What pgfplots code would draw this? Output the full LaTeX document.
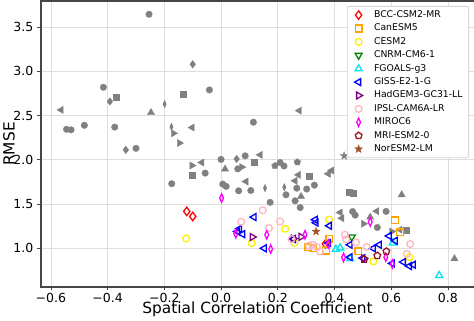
\documentclass[border=0pt]{standalone}
\usepackage{fontspec}
\setmainfont{DejaVu Sans}
\usepackage{pgfplots}
\pgfplotsset{compat=1.18}
\usetikzlibrary{plotmarks}

\definecolor{axisc}{RGB}{70,70,70}
\definecolor{gridc}{RGB}{222,222,222}
\definecolor{legc}{RGB}{215,215,215}
\definecolor{gr}{RGB}{128,128,128}
\definecolor{cbcc}{RGB}{255,0,0}
\definecolor{ccan}{RGB}{255,165,0}
\definecolor{ccesm}{RGB}{250,240,0}
\definecolor{ccnrm}{RGB}{0,128,0}
\definecolor{cfgo}{RGB}{0,230,240}
\definecolor{cgiss}{RGB}{0,0,255}
\definecolor{chad}{RGB}{128,0,128}
\definecolor{cipsl}{RGB}{255,182,193}
\definecolor{cmiroc}{RGB}{255,0,255}
\definecolor{cmri}{RGB}{150,20,30}
\definecolor{cnor}{RGB}{165,82,45}

\pgfdeclareplotmark{fstar}{%
  \pgfpathmoveto{\pgfpointpolar{90}{\pgfplotmarksize}}%
  \pgfpathlineto{\pgfpointpolar{126}{0.42\pgfplotmarksize}}%
  \pgfpathlineto{\pgfpointpolar{162}{\pgfplotmarksize}}%
  \pgfpathlineto{\pgfpointpolar{198}{0.42\pgfplotmarksize}}%
  \pgfpathlineto{\pgfpointpolar{234}{\pgfplotmarksize}}%
  \pgfpathlineto{\pgfpointpolar{270}{0.42\pgfplotmarksize}}%
  \pgfpathlineto{\pgfpointpolar{306}{\pgfplotmarksize}}%
  \pgfpathlineto{\pgfpointpolar{342}{0.42\pgfplotmarksize}}%
  \pgfpathlineto{\pgfpointpolar{18}{\pgfplotmarksize}}%
  \pgfpathlineto{\pgfpointpolar{54}{0.42\pgfplotmarksize}}%
  \pgfpathclose
  \pgfusepathqfillstroke
}

\begin{document}
\begin{tikzpicture}
\begin{axis}[
  name=ax,
  scale only axis, width=433pt, height=286pt,
  xmin=-0.635, xmax=0.892, ymin=0.563, ymax=3.795,
  xtick={-0.6,-0.4,-0.2,0,0.2,0.4,0.6,0.8},
  xticklabels={−0.6,−0.4,−0.2,0.0,0.2,0.4,0.6,0.8},
  ytick={1,1.5,2,2.5,3,3.5},
  yticklabels={1.0,1.5,2.0,2.5,3.0,3.5},
  tick label style={font=\fontsize{12.5}{14}\selectfont},
  xticklabel style={inner sep=0pt, text height=9.2pt, text depth=0pt, yshift=-2.3pt},
  yticklabel style={inner sep=1pt, xshift=-3pt},
  tick align=outside, major tick length=3.5pt,
  tick style={color=axisc, line width=0.8pt},
  xtick pos=bottom, ytick pos=left,
  grid=major, grid style={color=gridc, line width=0.8pt},
  axis line style={draw=none},
  xlabel={Spatial Correlation Coefficient}, ylabel={RMSE},
  label style={font=\fontsize{15.4}{17}\selectfont},
  xlabel style={inner sep=0pt, text height=11pt, yshift=-0.6pt},
  ylabel style={inner sep=0pt, yshift=-2.5pt},
  legend cell align=left,
  legend style={at={(1,1)}, anchor=north east, xshift=-5pt, yshift=-5pt,
    draw=legc, rounded corners=2pt, line width=0.8pt, fill=white,
    font=\fontsize{9.3}{11}\selectfont, inner xsep=4pt, inner ysep=2pt,
    row sep=0pt, nodes={inner xsep=2pt, inner ysep=2.2pt, text height=7pt, text depth=2pt}},
  legend image code/.code={\draw[#1] plot coordinates {(7pt,0pt)}; \path (0pt,0pt) (20pt,0pt);},
  after end axis/.code={\draw[axisc, line width=1.5pt] (rel axis cs:1,1) -- (rel axis cs:0,1) -- (rel axis cs:0,0) -- (rel axis cs:1,0);},
  gstyle/.style={only marks, forget plot, gr},
  ostyle/.style={only marks},
]
% ---------- gray models ----------
\addplot[gstyle, mark=*, mark size=3.3pt, mark options={draw=gr, fill=gr, line width=0.3pt}] coordinates {
(-0.254,3.645) (-0.041,2.79) (-0.415,2.82) (-0.529,2.339) (-0.545,2.345)
(-0.482,2.39) (-0.375,2.37) (-0.300,2.13) (0.000,2.005) (0.114,2.425)
(0.085,2.045) (-0.056,1.85) (0.059,1.898) (-0.174,1.73) (0.006,1.726)
(0.018,1.70) (0.062,1.65) (0.105,1.654) (0.208,1.97) (0.222,1.93)
(0.267,1.68) (0.302,1.67) (0.329,1.714) (0.229,1.605) (0.173,1.52)
(0.261,1.537) (0.279,1.46) (0.464,1.416) (0.473,1.375) (0.582,1.417)
(0.551,1.236)
};
\addplot[gstyle, mark=square*, mark size=3pt, mark options={draw=gr, fill=gr, line width=0.3pt}] coordinates {
(-0.135,2.737) (-0.370,2.707) (0.116,1.974) (-0.103,1.83) (0.310,1.82)
(0.450,1.63) (0.465,1.625) (0.653,1.20)
};
\addplot[gstyle, mark=diamond*, mark size=3.8pt, mark options={draw=gr, fill=gr, line width=0.3pt}] coordinates {
(-0.10,3.08) (-0.392,2.66) (-0.336,2.113) (0.055,2.01)
};
\addplot[gstyle, mark=diamond*, mark size=3.8pt, mark options={draw=gr, fill=gr, line width=0.3pt, xscale=0.6}] coordinates {
(-0.199,2.63) (-0.175,2.372) (0.155,1.68) (0.223,1.69)
};
\addplot[gstyle, mark=triangle*, mark size=4.2pt, mark options={draw=gr, fill=gr, line width=0.3pt}] coordinates {
(-0.247,2.534) (0.014,1.895) (0.282,1.586) (0.637,1.605) (0.823,0.883) (0.526,1.353)
};
\addplot[gstyle, mark=triangle*, mark size=4.2pt, mark options={draw=gr, fill=gr, line width=0.3pt, rotate=90}] coordinates {
(-0.564,2.564) (-0.102,2.365) (0.276,2.556) (0.138,2.056) (-0.068,1.97)
(0.088,1.755) (0.273,1.83) (0.261,1.763) (0.378,1.842) (0.390,1.88)
(0.420,1.405) (0.426,1.34) (0.549,1.42) (0.631,1.21)
};
\addplot[gstyle, mark=triangle*, mark size=4.2pt, mark options={draw=gr, fill=gr, line width=0.3pt, rotate=-90}] coordinates {
(-0.168,2.30) (-0.147,2.19) (-0.103,1.936) (0.073,1.918) (0.502,1.278) (0.602,1.19)
};
\addplot[gstyle, mark=pentagon*, mark size=3.5pt, mark options={draw=gr, fill=gr, line width=0.3pt}] coordinates {
(0.269,1.974) (0.190,1.932)
};
\addplot[gstyle, mark=fstar, mark size=4.2pt, mark options={draw=gr, fill=gr, line width=0.3pt}] coordinates {
(0.434,2.045)
};
% ---------- colored models ----------
\addplot[ostyle, mark=diamond, mark size=4.2pt, cbcc, mark options={draw=cbcc, line width=1.3pt}] coordinates {
(-0.121,1.417) (-0.100,1.36) (0.368,1.05)
};
\addlegendentry{BCC-CSM2-MR}
\addplot[ostyle, mark=square, mark size=3.4pt, ccan, mark options={draw=ccan, line width=1.3pt}] coordinates {
(0.614,1.315) (0.631,1.18) (0.382,1.11) (0.308,1.01) (0.325,1.0) (0.484,0.965) (0.370,0.975)
};
\addlegendentry{CanESM5}
\addplot[ostyle, mark=o, mark size=3.4pt, ccesm, mark options={draw=ccesm, line width=1.3pt}] coordinates {
(-0.123,1.112) (0.108,1.06) (0.226,1.22) (0.259,1.06) (0.381,1.325) (0.537,0.852) (0.664,0.90)
};
\addlegendentry{CESM2}
\addplot[ostyle, mark=triangle, mark size=4pt, ccnrm, mark options={draw=ccnrm, line width=1.3pt, rotate=180}] coordinates {
(0.461,1.128)
};
\addlegendentry{CNRM-CM6-1}
\addplot[ostyle, mark=triangle, mark size=4pt, cfgo, mark options={draw=cfgo, line width=1.3pt}] coordinates {
(0.769,0.694) (0.405,0.99) (0.420,1.005) (0.455,0.885) (0.605,1.06)
};
\addlegendentry{FGOALS-g3}
\addplot[ostyle, mark=triangle, mark size=4pt, cgiss, mark options={draw=cgiss, line width=1.3pt, rotate=90}] coordinates {
(0.116,1.353) (0.065,1.221) (0.076,1.16) (0.058,1.19) (0.152,1.0) (0.255,1.105)
(0.335,1.29) (0.332,1.323) (0.382,1.255) (0.379,1.06) (0.455,1.04) (0.455,0.90)
(0.500,0.89) (0.537,1.0) (0.558,1.04) (0.593,1.14) (0.614,1.085) (0.604,0.83)
(0.643,0.845) (0.664,0.80) (0.678,0.815)
};
\addlegendentry{GISS-E2-1-G}
\addplot[ostyle, mark=triangle, mark size=4pt, chad, mark options={draw=chad, line width=1.3pt, rotate=-90}] coordinates {
(0.110,1.128) (0.282,1.13) (0.255,1.11) (0.503,0.885)
};
\addlegendentry{HadGEM3-GC31-LL}
\addplot[ostyle, mark=o, mark size=3.4pt, cipsl, mark options={draw=cipsl, line width=1.3pt}] coordinates {
(0.147,1.43) (0.071,1.30) (0.169,1.229) (0.208,1.304) (0.249,1.105) (0.323,1.04)
(0.338,1.015) (0.349,0.965) (0.437,1.153) (0.441,1.10) (0.476,1.067) (0.514,1.015)
(0.667,1.048) (0.655,0.936) (0.310,1.03)
};
\addlegendentry{IPSL-CAM6A-LR}
\addplot[ostyle, mark=diamond, mark size=4.2pt, cmiroc, mark options={draw=cmiroc, line width=1.3pt, xscale=0.6}] coordinates {
(0.002,1.568) (0.052,1.165) (0.161,1.153) (0.175,0.992) (0.296,1.153) (0.378,1.05)
(0.526,1.297) (0.432,0.897) (0.581,0.90) (0.604,0.823)
};
\addlegendentry{MIROC6}
\addplot[ostyle, mark=pentagon, mark size=3.5pt, cmri, mark options={draw=cmri, line width=1.3pt}] coordinates {
(0.505,0.875) (0.551,0.917) (0.583,0.965)
};
\addlegendentry{MRI-ESM2-0}
\addplot[ostyle, mark=fstar, mark size=4.2pt, cnor, mark options={draw=cnor, fill=cnor, line width=0.3pt}] coordinates {
(0.335,1.19)
};
\addlegendentry{NorESM2-LM}
\end{axis}
\pgfresetboundingbox
\path ([xshift=-41pt,yshift=-34pt]ax.south west) rectangle ([yshift=1pt]ax.north east);
\end{tikzpicture}
\end{document}
